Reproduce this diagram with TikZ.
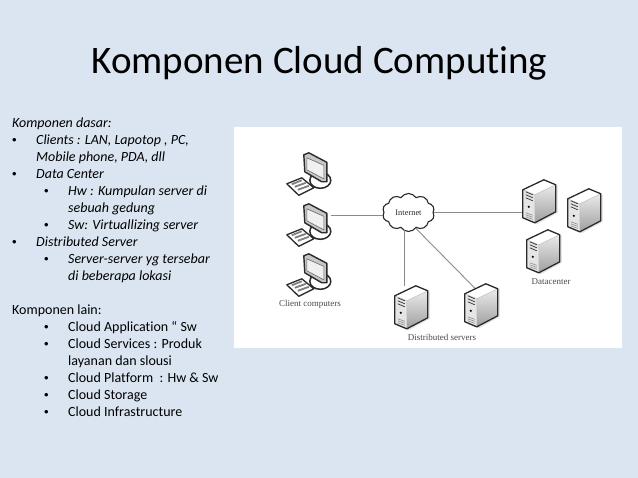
\documentclass[tikz,border=0pt]{standalone}
\usepackage{fontspec}
\setmainfont[Ligatures=NoCommon]{Carlito}
\newfontfamily\labelfont{Liberation Serif}
\newfontfamily\bulletfont{Liberation Sans}
\usetikzlibrary{shapes.symbols}
\definecolor{slidebg}{HTML}{DBE5F1}
\definecolor{ink}{HTML}{2A2A2A}
\definecolor{edgecol}{HTML}{8A8A8A}
\definecolor{labelcol}{HTML}{4A4A4A}
\tikzset{
  titletext/.style={anchor=base,inner sep=0pt,font=\fontsize{39}{42}\selectfont,text=black},
  bodytext/.style={anchor=base west,inner sep=0pt,font=\fontsize{14}{17}\selectfont,text=black},
  emtext/.style={bodytext,font=\fontsize{14}{17}\selectfont\itshape},
  dotmark/.style={anchor=base west,inner sep=0pt,font=\bulletfont\fontsize{13}{14}\selectfont,text=black,yshift=0.5pt},
  diaglabel/.style={inner sep=0pt,font=\labelfont\fontsize{9}{10}\selectfont,text=labelcol},
  linkline/.style={draw=edgecol,line width=0.9pt},
  holder/.style={inner sep=0pt,minimum width=33pt,minimum height=43pt},
  clientholder/.style={inner sep=0pt,minimum width=24pt,minimum height=32pt},
  cloudnode/.style={cloud,cloud puffs=10,cloud puff arc=115,aspect=1.5,draw=ink,line width=1.1pt,fill=white,inner sep=0pt,minimum width=52pt,minimum height=38pt,font=\labelfont\fontsize{8.4}{10}\selectfont,text=ink},
  server/.pic={
    \fill[black!10] (2,11)--(23,1)--(35,6)--(35,33)--(14,44.5)--(2,39.5)--cycle;
    % top, front and side faces
    \fill[white] (0,10)--(21,0)--(33,5)--(12,15)--cycle;
    \fill[black!10] (0,10)--(12,15)--(12,43)--(0,38)--cycle;
    \shade[top color=black!8,bottom color=black!38] (12,15)--(33,5)--(33,32)--(12,43)--cycle;
    \draw[black!25,line width=0.5pt] (0,10)--(12,15)--(33,5) (12,15)--(12,43);
    \draw[ink,line width=1.3pt,line join=round] (0,10)--(21,0)--(33,5)--(33,32)--(12,43)--(0,38)--cycle;
    \foreach \yy in {12,15,18}{\draw[black!75,line width=0.8pt] (3,\yy)--(10,\yy+3);}
    \fill[black] (6,27) circle (1.2);
    \foreach \yy in {33,35,37}{\draw[black!45,line width=0.6pt] (3,\yy)--(10,\yy+2.5);}
  },
  client/.pic={
    % keyboard
    \draw[ink,fill=white,line width=1.3pt,line join=round] (-17,31)--(-2,25)--(10,35)--(-5,42.5)--cycle;
    \draw[black!50,line width=1.8pt] (-12,31.5)--(-2,27.5) (-9,34)--(2,30) (-6,37)--(5,33);
    % stand
    \draw[ink,fill=white,line width=1.5pt] (16.5,27.5) ellipse [x radius=10.5,y radius=8];
    % monitor
    \fill[black!22,draw=ink,line width=1.4pt,line join=round]
      (0,2)--(5,0)--(23,9.5)--(23,29)--(18,29)--(1,19)--cycle;
    \fill[black!6,draw=black!60,line width=0.6pt] (3,5)--(20,12.5)--(20,26)--(3,17)--cycle;
  }
}
\begin{document}
\begin{tikzpicture}[x=1pt,y=-1pt]
\useasboundingbox (0,0) rectangle (638,478);
\fill[slidebg] (0,0) rectangle (638,478);
\fill[white] (234,127) rectangle (622,348);
\node[titletext] (title) at (319.5,74) {Komponen Cloud Computing};

\node[emtext] (t1) at (12,127.3) {Komponen dasar:};
\node[dotmark] (b2) at (12,145) {•};
\node[emtext] (t2) at (36,145) {Clients : LAN, Lapotop , PC,};
\node[emtext] (t3) at (36,161.7) {Mobile phone, PDA, dll};
\node[dotmark] (b4) at (12,179) {•};
\node[emtext] (t4) at (36,179) {Data Center};
\node[dotmark] (b5) at (44,196) {•};
\node[emtext] (t5) at (68,196) {Hw : Kumpulan server di};
\node[emtext] (t6) at (68,213) {sebuah gedung};
\node[dotmark] (b7) at (44,230) {•};
\node[emtext] (t7) at (68,230) {Sw: Virtuallizing server};
\node[dotmark] (b8) at (12,247) {•};
\node[emtext] (t8) at (36,247) {Distributed Server};
\node[dotmark] (b9) at (44,264) {•};
\node[emtext] (t9) at (68,264) {Server-server yg tersebar};
\node[emtext] (t10) at (68,281) {di beberapa lokasi};
\node[bodytext] (t11) at (12,315) {Komponen lain:};
\node[dotmark] (b12) at (44,332) {•};
\node[bodytext] (t12) at (68,332) {Cloud Application “ Sw};
\node[dotmark] (b13) at (44,349) {•};
\node[bodytext] (t13) at (68,349) {Cloud Services : Produk};
\node[bodytext] (t14) at (68,365.7) {layanan dan slousi};
\node[dotmark] (b15) at (44,383) {•};
\node[bodytext] (t15) at (68,383) {Cloud Platform ~: Hw \& Sw};
\node[dotmark] (b16) at (44,400) {•};
\node[bodytext] (t16) at (68,400) {Cloud Storage};
\node[dotmark] (b17) at (44,417) {•};
\node[bodytext] (t17) at (68,417) {Cloud Infrastructure};

% anchor boxes for the devices
\node[holder] (dc1) at (539.5,201.5) {};
\node[holder] (dc2) at (584.5,210.5) {};
\node[holder] (dc3) at (543.5,251.5) {};
\node[holder] (d1) at (411.5,307.5) {};
\node[holder] (d2) at (481.5,305.5) {};
\node[clientholder] (c1) at (316,169) {};
\node[clientholder] (c2) at (316,220) {};
\node[clientholder] (c3) at (316,270) {};
\node[cloudnode] (net) at (408.5,212.5) {Internet};

\draw[linkline] (c2.east |- net.west) ++(3,3) coordinate (c2p) -- (net.west |- c2p);
\draw[linkline] (net.east) -- (dc1.west |- net.east);
\draw[linkline] (net.south -| d1.north) ++(-7.5,-2) coordinate (dtop) -- (dtop |- d1.north);
\draw[linkline] (net.-65) -- ([shift={(-6,5)}]d2.north);

\path (dc1.north west) pic {server};
\path (dc2.north west) pic {server};
\path (dc3.north west) pic {server};
\path (d1.north west) pic {server};
\path (d2.north west) pic {server};
\path (c1.north west) pic {client};
\path (c2.north west) pic {client};
\path (c3.north west) pic {client};

\node[diaglabel] (lc) at (310,304) {Client computers};
\node[diaglabel] (ld) at (551,282) {Datacenter};
\node[diaglabel] (ls) at (442,337.5) {Distributed servers};
\end{tikzpicture}
\end{document}
